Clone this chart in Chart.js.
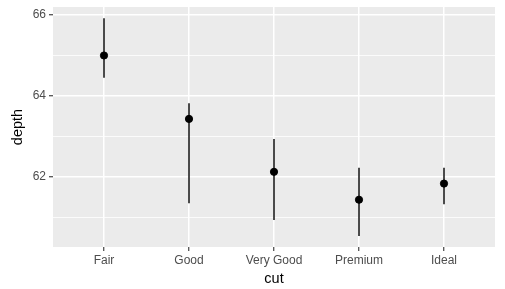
<!DOCTYPE html>
<html>
<head>
<meta charset="utf-8">
<script src="https://cdn.jsdelivr.net/npm/chart.js@4/dist/chart.umd.min.js"></script>
<style>
  html, body { margin: 0; padding: 0; background: #fff; }
</style>
</head>
<body>
<canvas id="depthChart" width="505" height="289"></canvas>
<script>
const cuts = ["Fair", "Good", "Very Good", "Premium", "Ideal"];
const depthMid = [65.0, 63.43, 62.12, 61.43, 61.83];
const depthLow = [64.45, 61.34, 60.93, 60.53, 61.32];
const depthHigh = [65.92, 63.82, 62.93, 62.22, 62.22];
const yTicks = [61, 62, 63, 64, 65, 66];

// vertical ranges: two points per cut, with a gap between them
const rangePoints = [];
cuts.forEach((c, i) => {
  rangePoints.push({ x: i + 1, y: depthLow[i] });
  rangePoints.push({ x: i + 1, y: depthHigh[i] });
  rangePoints.push({ x: i + 1, y: null });
});
const midPoints = cuts.map((c, i) => ({ x: i + 1, y: depthMid[i] }));

const panelBg = {
  id: "panelBg",
  beforeDraw(chart) {
    const a = chart.chartArea;
    const ctx = chart.ctx;
    ctx.save();
    ctx.fillStyle = "#EBEBEB";
    ctx.fillRect(a.left, a.top, a.right - a.left, a.bottom - a.top);
    ctx.restore();
  }
};

const tickFont = { family: "'Liberation Sans', Arial, sans-serif", size: 12 };
const titleFont = { family: "'Liberation Sans', Arial, sans-serif", size: 14.5 };

new Chart(document.getElementById("depthChart"), {
  type: "scatter",
  data: {
    datasets: [
      {
        type: "line",
        data: rangePoints,
        borderColor: "#000",
        borderWidth: 1.4,
        pointRadius: 0,
        spanGaps: false,
        fill: false
      },
      {
        data: midPoints,
        backgroundColor: "#000",
        borderColor: "#000",
        pointRadius: 3.6,
        pointHoverRadius: 3.6
      }
    ]
  },
  options: {
    responsive: false,
    animation: false,
    devicePixelRatio: 1,
    layout: { padding: { left: 0, top: 7, right: 10, bottom: 0 } },
    plugins: {
      legend: { display: false },
      tooltip: { enabled: false }
    },
    scales: {
      x: {
        type: "linear",
        min: 0.4,
        max: 5.6,
        afterBuildTicks: (scale) => {
          scale.ticks = cuts.map((c, i) => ({ value: i + 1 }));
        },
        afterFit: (scale) => {
          scale.height = 42;
          scale.paddingLeft = 0;
          scale.paddingRight = 0;
        },
        border: { display: false },
        grid: {
          color: "#fff",
          lineWidth: 1.5,
          tickLength: 4,
          tickColor: "#333",
          tickWidth: 1.1
        },
        ticks: {
          color: "#4D4D4D",
          font: tickFont,
          padding: 2,
          maxRotation: 0,
          autoSkip: false,
          callback: (v) => cuts[v - 1]
        },
        title: {
          display: true,
          text: "cut",
          color: "#000",
          font: titleFont,
          padding: { top: 0, bottom: 1 }
        }
      },
      y: {
        min: 60.26,
        max: 66.2,
        afterBuildTicks: (scale) => {
          scale.ticks = yTicks.map(v => ({ value: v }));
        },
        afterFit: (scale) => {
          scale.width = 53;
          scale.paddingTop = 0;
          scale.paddingBottom = 0;
        },
        border: { display: false },
        grid: {
          color: "#fff",
          lineWidth: (ctx) => (ctx.tick && ctx.tick.value % 2 === 0 ? 1.5 : 0.8),
          tickLength: 4,
          tickColor: (ctx) => (ctx.tick && ctx.tick.value % 2 === 0 ? "#333" : "rgba(0,0,0,0)"),
          tickWidth: 1.1
        },
        ticks: {
          color: "#4D4D4D",
          font: tickFont,
          padding: 3,
          autoSkip: false,
          callback: (v) => (v % 2 === 0 ? String(v) : "")
        },
        title: {
          display: true,
          text: "depth",
          color: "#000",
          font: titleFont,
          padding: { top: 9, bottom: 0 }
        }
      }
    }
  },
  plugins: [panelBg]
});
</script>
</body>
</html>
